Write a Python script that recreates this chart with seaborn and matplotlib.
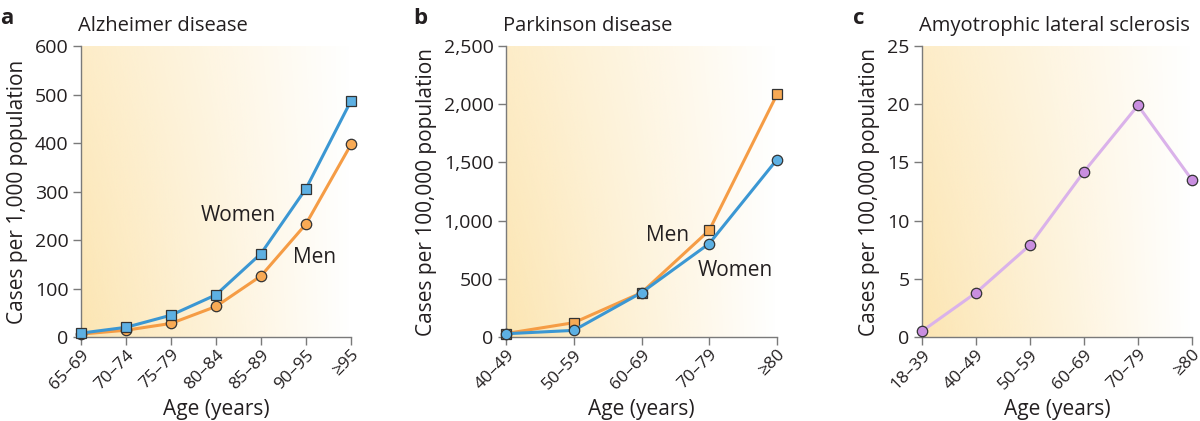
import numpy as np
import pandas as pd
import seaborn as sns
import matplotlib.pyplot as plt

# data
ad_ages = ["65–69", "70–74", "75–79", "80–84", "85–89", "90–95", "≥95"]
ad_women = [8, 20, 45, 87, 172, 306, 487]
ad_men = [6, 14, 28, 63, 126, 233, 397]

pd_ages = ["40–49", "50–59", "60–69", "70–79", "≥80"]
pd_men = [30, 123, 381, 917, 2084]
pd_women = [28, 57, 381, 803, 1525]

als_ages = ["18–39", "40–49", "50–59", "60–69", "70–79", "≥80"]
als_cases = [0.5, 3.8, 7.9, 14.2, 19.9, 13.5]

BLUE = "#3b97d3"
BLUE_FILL = "#5db0e3"
ORANGE = "#f59c45"
ORANGE_FILL = "#f8aa55"
PURPLE = "#dab2ea"
PURPLE_FILL = "#c98ee0"
GREY = "#7a7a7a"
TEXT = "#231f20"

sns.set_theme(style="ticks")
plt.rcParams['font.family'] = ['Open Sans', 'DejaVu Sans']
plt.rcParams['text.color'] = TEXT
plt.rcParams['axes.labelcolor'] = TEXT
plt.rcParams['xtick.color'] = GREY
plt.rcParams['ytick.color'] = GREY
plt.rcParams['xtick.labelcolor'] = TEXT
plt.rcParams['ytick.labelcolor'] = TEXT

fig = plt.figure(figsize=(12, 4.21), dpi=100)
axes = [fig.add_axes([0.0675, 0.1995, 0.225, 0.6912]),
        fig.add_axes([0.4217, 0.1995, 0.2258, 0.6912]),
        fig.add_axes([0.7683, 0.1995, 0.225, 0.6912])]

# warm gradient behind each plot
gx, gy = np.meshgrid(np.linspace(0, 1, 300), np.linspace(0, 1, 200))
alpha = np.clip((1 - gx) ** 1.0 * (0.72 + 0.28 * gy), 0, 1)
grad = np.zeros((200, 300, 4))
grad[..., 0] = 252 / 255
grad[..., 1] = 226 / 255
grad[..., 2] = 168 / 255
grad[..., 3] = alpha * 0.88


def style_axis(ax, labels, ymax, yticks, yticklabels, ylabel, title):
    n = len(labels)
    ax.imshow(grad, extent=(0, n - 1, 0, ymax), aspect="auto", zorder=0,
              origin="upper")
    ax.set_xlim(0, n - 1)
    ax.set_ylim(0, ymax)
    ax.set_xticks(range(n))
    ax.set_xticklabels(labels, rotation=45, ha="right", rotation_mode="anchor",
                       fontsize=12.5)
    ax.set_yticks(yticks)
    ax.set_yticklabels(yticklabels, fontsize=14)
    ax.tick_params(length=6, width=1, pad=3)
    ax.tick_params(axis="x", pad=1)
    ax.set_xlabel("Age (years)", fontsize=15)
    ax.xaxis.set_label_coords(0.5, -0.212)
    ax.set_ylabel(ylabel, fontsize=15, labelpad=5)
    for s in ["top", "right"]:
        ax.spines[s].set_visible(False)
    for s in ["left", "bottom"]:
        ax.spines[s].set_color(GREY)
        ax.spines[s].set_linewidth(1)
    ax.set_facecolor("white")
    ax.text(-0.01, 1.05, title, transform=ax.transAxes,
            fontsize=14.5, ha="left", va="baseline")


def draw(ax, labels, values, line, fill, marker, size):
    df = pd.DataFrame({"age": labels, "cases": values})
    sns.lineplot(data=df, x="age", y="cases", ax=ax, color=line, lw=2.2,
                 marker=marker, markersize=size, markerfacecolor=fill,
                 markeredgecolor="#333333", markeredgewidth=0.9,
                 clip_on=False, zorder=3, sort=False)


# a: Alzheimer
ax = axes[0]
draw(ax, ad_ages, ad_men, ORANGE, ORANGE_FILL, "o", 7.5)
draw(ax, ad_ages, ad_women, BLUE, BLUE_FILL, "s", 7.5)
style_axis(ax, ad_ages, 600, range(0, 601, 100),
           [str(v) for v in range(0, 601, 100)],
           "Cases per 1,000 population", "Alzheimer disease")
ax.text(3.5, 251, "Women", fontsize=15, ha="center", va="center")
ax.text(5.2, 163, "Men", fontsize=15, ha="center", va="center")

# b: Parkinson
ax = axes[1]
draw(ax, pd_ages, pd_men, ORANGE, ORANGE_FILL, "s", 7.5)
draw(ax, pd_ages, pd_women, BLUE, BLUE_FILL, "o", 7.5)
style_axis(ax, pd_ages, 2500, range(0, 2501, 500),
           [f"{v:,}" for v in range(0, 2501, 500)],
           "Cases per 100,000 population", "Parkinson disease")
ax.text(2.38, 876, "Men", fontsize=15, ha="center", va="center")
ax.text(3.39, 575, "Women", fontsize=15, ha="center", va="center")

# c: ALS
ax = axes[2]
draw(ax, als_ages, als_cases, PURPLE, PURPLE_FILL, "o", 7.5)
style_axis(ax, als_ages, 25, range(0, 26, 5), [str(v) for v in range(0, 26, 5)],
           "Cases per 100,000 population", "Amyotrophic lateral sclerosis")

for letter, x in zip("abc", [0.0, 0.344, 0.711]):
    fig.text(x, 0.98, letter, fontsize=16, fontweight="bold", ha="left", va="top")

fig.savefig("out.png", dpi=100)
